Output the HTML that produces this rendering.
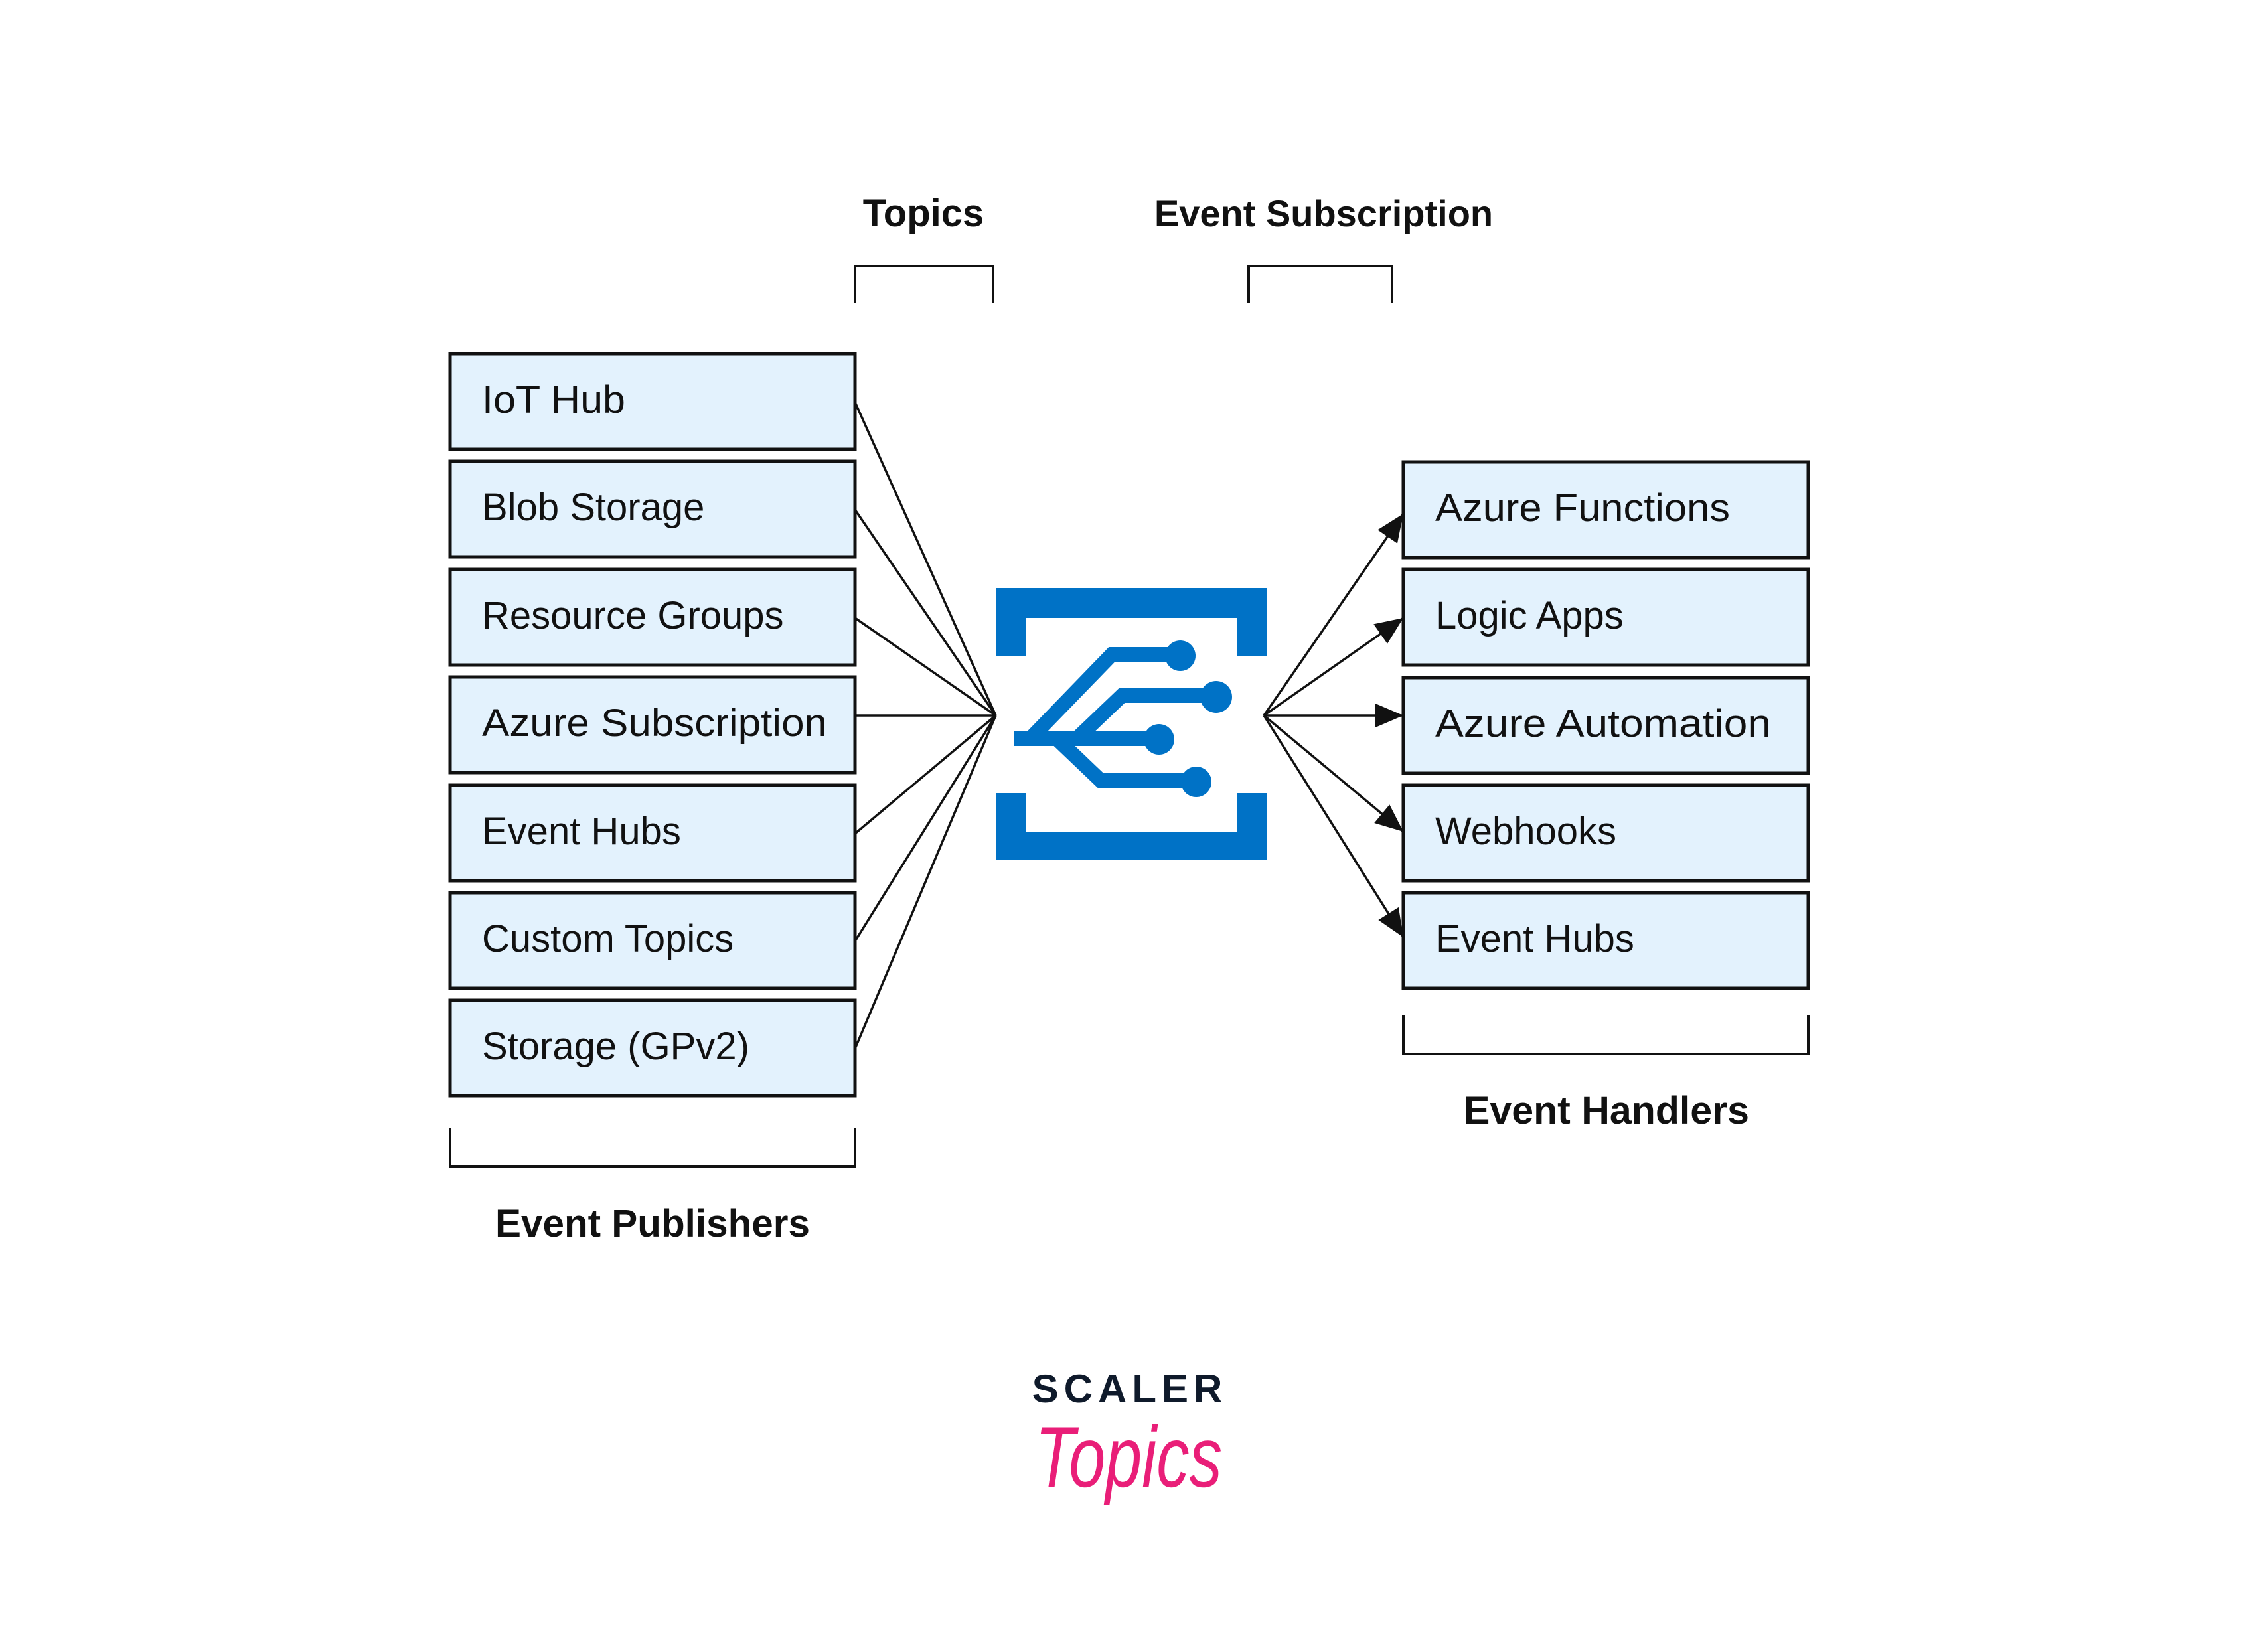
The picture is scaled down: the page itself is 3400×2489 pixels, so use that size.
<!DOCTYPE html>
<html><head><meta charset="utf-8"><style>
html,body{margin:0;padding:0;background:#fff;}
svg{display:block;}
text{font-family:"Liberation Sans",sans-serif;}
</style></head><body>
<svg width="3400" height="2489" viewBox="0 0 3400 2489" xmlns="http://www.w3.org/2000/svg">
<defs>
<marker id="ah" markerWidth="12" markerHeight="12" refX="10" refY="5" orient="auto" markerUnits="userSpaceOnUse" viewBox="0 0 10 10" style="overflow:visible">
</marker>
</defs>
<rect width="3400" height="2489" fill="#fff"/>
<text x="1391" y="341" font-size="58" font-weight="bold" text-anchor="middle" fill="#111">Topics</text>
<text x="1994" y="341" font-size="56" font-weight="bold" text-anchor="middle" fill="#111">Event Subscription</text>
<path d="M1288,457 V401 H1496 V457" fill="none" stroke="#111" stroke-width="4"/>
<path d="M1881,457 V401 H2097 V457" fill="none" stroke="#111" stroke-width="4"/>
<g stroke="#111" stroke-width="5" fill="#e3f2fd">
<rect x="678" y="533" width="610" height="144"/>
<rect x="678" y="695" width="610" height="144"/>
<rect x="678" y="858" width="610" height="144"/>
<rect x="678" y="1020" width="610" height="144"/>
<rect x="678" y="1183" width="610" height="144"/>
<rect x="678" y="1345" width="610" height="144"/>
<rect x="678" y="1507" width="610" height="144"/>
<rect x="2114" y="696" width="610" height="144"/>
<rect x="2114" y="858" width="610" height="144"/>
<rect x="2114" y="1021" width="610" height="144"/>
<rect x="2114" y="1183" width="610" height="144"/>
<rect x="2114" y="1345" width="610" height="144"/>
</g>
<g font-size="58" fill="#111">
<text x="726" y="622" textLength="216" lengthAdjust="spacingAndGlyphs">IoT Hub</text>
<text x="726" y="784">Blob Storage</text>
<text x="726" y="947">Resource Groups</text>
<text x="726" y="1109" textLength="520" lengthAdjust="spacingAndGlyphs">Azure Subscription</text>
<text x="726" y="1272">Event Hubs</text>
<text x="726" y="1434">Custom Topics</text>
<text x="726" y="1596">Storage (GPv2)</text>
<text x="2162" y="785" textLength="444" lengthAdjust="spacingAndGlyphs">Azure Functions</text>
<text x="2162" y="947">Logic Apps</text>
<text x="2162" y="1110" textLength="506" lengthAdjust="spacingAndGlyphs">Azure Automation</text>
<text x="2162" y="1272">Webhooks</text>
<text x="2162" y="1434">Event Hubs</text>
</g>
<path d="M678,1700 V1758 H1288 V1700" fill="none" stroke="#111" stroke-width="4"/>
<path d="M2114,1530 V1588 H2724 V1530" fill="none" stroke="#111" stroke-width="4"/>
<text x="983" y="1863" font-size="58" font-weight="bold" text-anchor="middle" fill="#111" textLength="474" lengthAdjust="spacingAndGlyphs">Event Publishers</text>
<text x="2420" y="1693" font-size="58" font-weight="bold" text-anchor="middle" fill="#111" textLength="430" lengthAdjust="spacingAndGlyphs">Event Handlers</text>
<g stroke="#111" stroke-width="3.5" fill="none">
<line x1="1288" y1="606" x2="1500" y2="1078"/>
<line x1="1288" y1="768" x2="1500" y2="1078"/>
<line x1="1288" y1="931" x2="1500" y2="1078"/>
<line x1="1288" y1="1078" x2="1500" y2="1078"/>
<line x1="1288" y1="1256" x2="1500" y2="1078"/>
<line x1="1288" y1="1418" x2="1500" y2="1078"/>
<line x1="1288" y1="1580" x2="1500" y2="1078"/>
<line x1="1904" y1="1078" x2="2114" y2="774"/>
<line x1="1904" y1="1078" x2="2114" y2="931"/>
<line x1="1904" y1="1078" x2="2114" y2="1078"/>
<line x1="1904" y1="1078" x2="2114" y2="1253"/>
<line x1="1904" y1="1078" x2="2114" y2="1412"/>
</g>
<g fill="#111">
<!-- arrowheads: tip at target, length 42, half-width 18, along direction -->
<polygon points="0,0 -42,-18 -42,18" transform="translate(2114,774) rotate(-55.4)"/>
<polygon points="0,0 -42,-18 -42,18" transform="translate(2114,931) rotate(-35.0)"/>
<polygon points="0,0 -42,-18 -42,18" transform="translate(2114,1078)"/>
<polygon points="0,0 -42,-18 -42,18" transform="translate(2114,1253) rotate(39.8)"/>
<polygon points="0,0 -42,-18 -42,18" transform="translate(2114,1412) rotate(57.8)"/>
</g>
<g fill="#0072c6">
<path d="M1500,886 H1909 V988 H1863 V931 H1546 V988 H1500 Z"/>
<path d="M1500,1195 H1546 V1253 H1863 V1195 H1909 V1296 H1500 Z"/>
</g>
<g stroke="#0072c6" stroke-width="22" fill="none">
<line x1="1527" y1="1113" x2="1745" y2="1113"/>
<polyline points="1552,1113 1675,986 1775,986"/>
<polyline points="1622,1113 1690,1048 1832,1048"/>
<polyline points="1592,1113 1658,1176 1800,1176"/>
</g>
<g fill="#0072c6">
<circle cx="1778" cy="988" r="23"/>
<circle cx="1832" cy="1050" r="24"/>
<circle cx="1746" cy="1114" r="23"/>
<circle cx="1802" cy="1178" r="23"/>
</g>
<text x="1702" y="2113" font-size="60" font-weight="bold" text-anchor="middle" fill="#0f1a2b" letter-spacing="8">SCALER</text>
<text x="1700" y="2240" font-size="130" font-style="italic" font-family="Liberation Serif, serif" text-anchor="middle" fill="#e91e78" textLength="282" lengthAdjust="spacingAndGlyphs">Topics</text>
</svg>
</body></html>
